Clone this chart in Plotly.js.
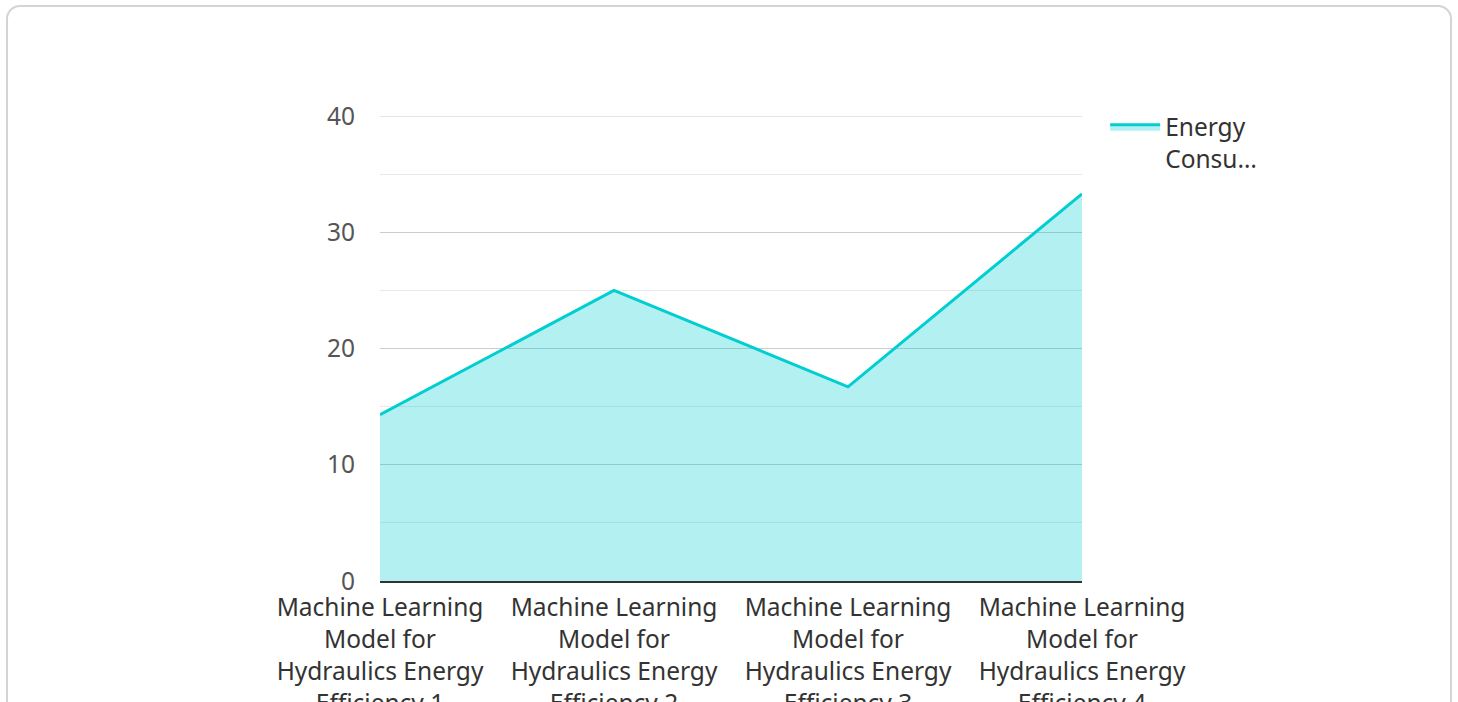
<!DOCTYPE html>
<html>
<head>
<meta charset="utf-8">
<script src="https://cdn.plot.ly/plotly-3.0.1.min.js"></script>
<style>
  html, body { margin: 0; padding: 0; background: #fff; width: 1458px; height: 702px; overflow: hidden; }
  #card { position: absolute; left: 6px; top: 5px; width: 1446px; height: 740px; border: 2px solid #d4d4d4; border-radius: 14px; box-sizing: border-box; }
  #chart { position: absolute; left: 0; top: 0; width: 1458px; height: 702px; }
</style>
</head>
<body>
<div id="card"></div>
<div id="chart"></div>
<script>
const categories = [
  "Machine Learning<br>Model for<br>Hydraulics Energy<br>Efficiency 1",
  "Machine Learning<br>Model for<br>Hydraulics Energy<br>Efficiency 2",
  "Machine Learning<br>Model for<br>Hydraulics Energy<br>Efficiency 3",
  "Machine Learning<br>Model for<br>Hydraulics Energy<br>Efficiency 4"
];
const energyConsumption = [14.3, 25.0, 16.7, 33.3];
const seriesName = "Energy<br>Consu…";
const yTickValues = [0, 10, 20, 30, 40];
const yMax = 40;

const trace = {
  type: 'scatter',
  mode: 'lines',
  x: categories,
  y: energyConsumption,
  name: seriesName,
  fill: 'tozeroy',
  fillcolor: 'rgba(0,206,209,0.3)',
  line: { color: '#00CED1', width: 3 }
};

const layout = {
  width: 1458,
  height: 702,
  paper_bgcolor: 'rgba(0,0,0,0)',
  plot_bgcolor: 'rgba(0,0,0,0)',
  margin: { l: 380, r: 376, t: 116, b: 121 },
  font: { family: 'Noto Sans, Open Sans, sans-serif', size: 24.5, color: '#333' },
  showlegend: true,
  legend: {
    x: 1.033, y: 1.025, xanchor: 'left', yanchor: 'top',
    itemwidth: 50,
    valign: 'top',
    font: { size: 24.5, color: '#333' },
    bgcolor: 'rgba(0,0,0,0)'
  },
  shapes: [{
    type: 'line', layer: 'below',
    xref: 'paper', x0: 0, x1: 1,
    yref: 'y', y0: yMax, y1: yMax,
    line: { color: '#cccccc', width: 1 }
  }],
  xaxis: {
    type: 'category',
    range: [0, 3],
    showgrid: false,
    showline: true,
    linecolor: '#333',
    linewidth: 2,
    ticks: '',
    ticklabelstandoff: 4,
    tickfont: { size: 24.5, color: '#333' },
    zeroline: false,
    fixedrange: true
  },
  yaxis: {
    range: [0, yMax],
    tickvals: yTickValues,
    showgrid: true,
    gridcolor: '#cccccc',
    gridwidth: 1,
    minor: { dtick: 5, showgrid: true, gridcolor: '#e8e8e8', gridwidth: 1 },
    zeroline: false,
    showline: false,
    ticks: '',
    ticklabelstandoff: 24,
    tickfont: { size: 24.5, color: '#555' },
    fixedrange: true
  }
};

Plotly.newPlot('chart', [trace], layout, { displayModeBar: false, staticPlot: true });
</script>
</body>
</html>
